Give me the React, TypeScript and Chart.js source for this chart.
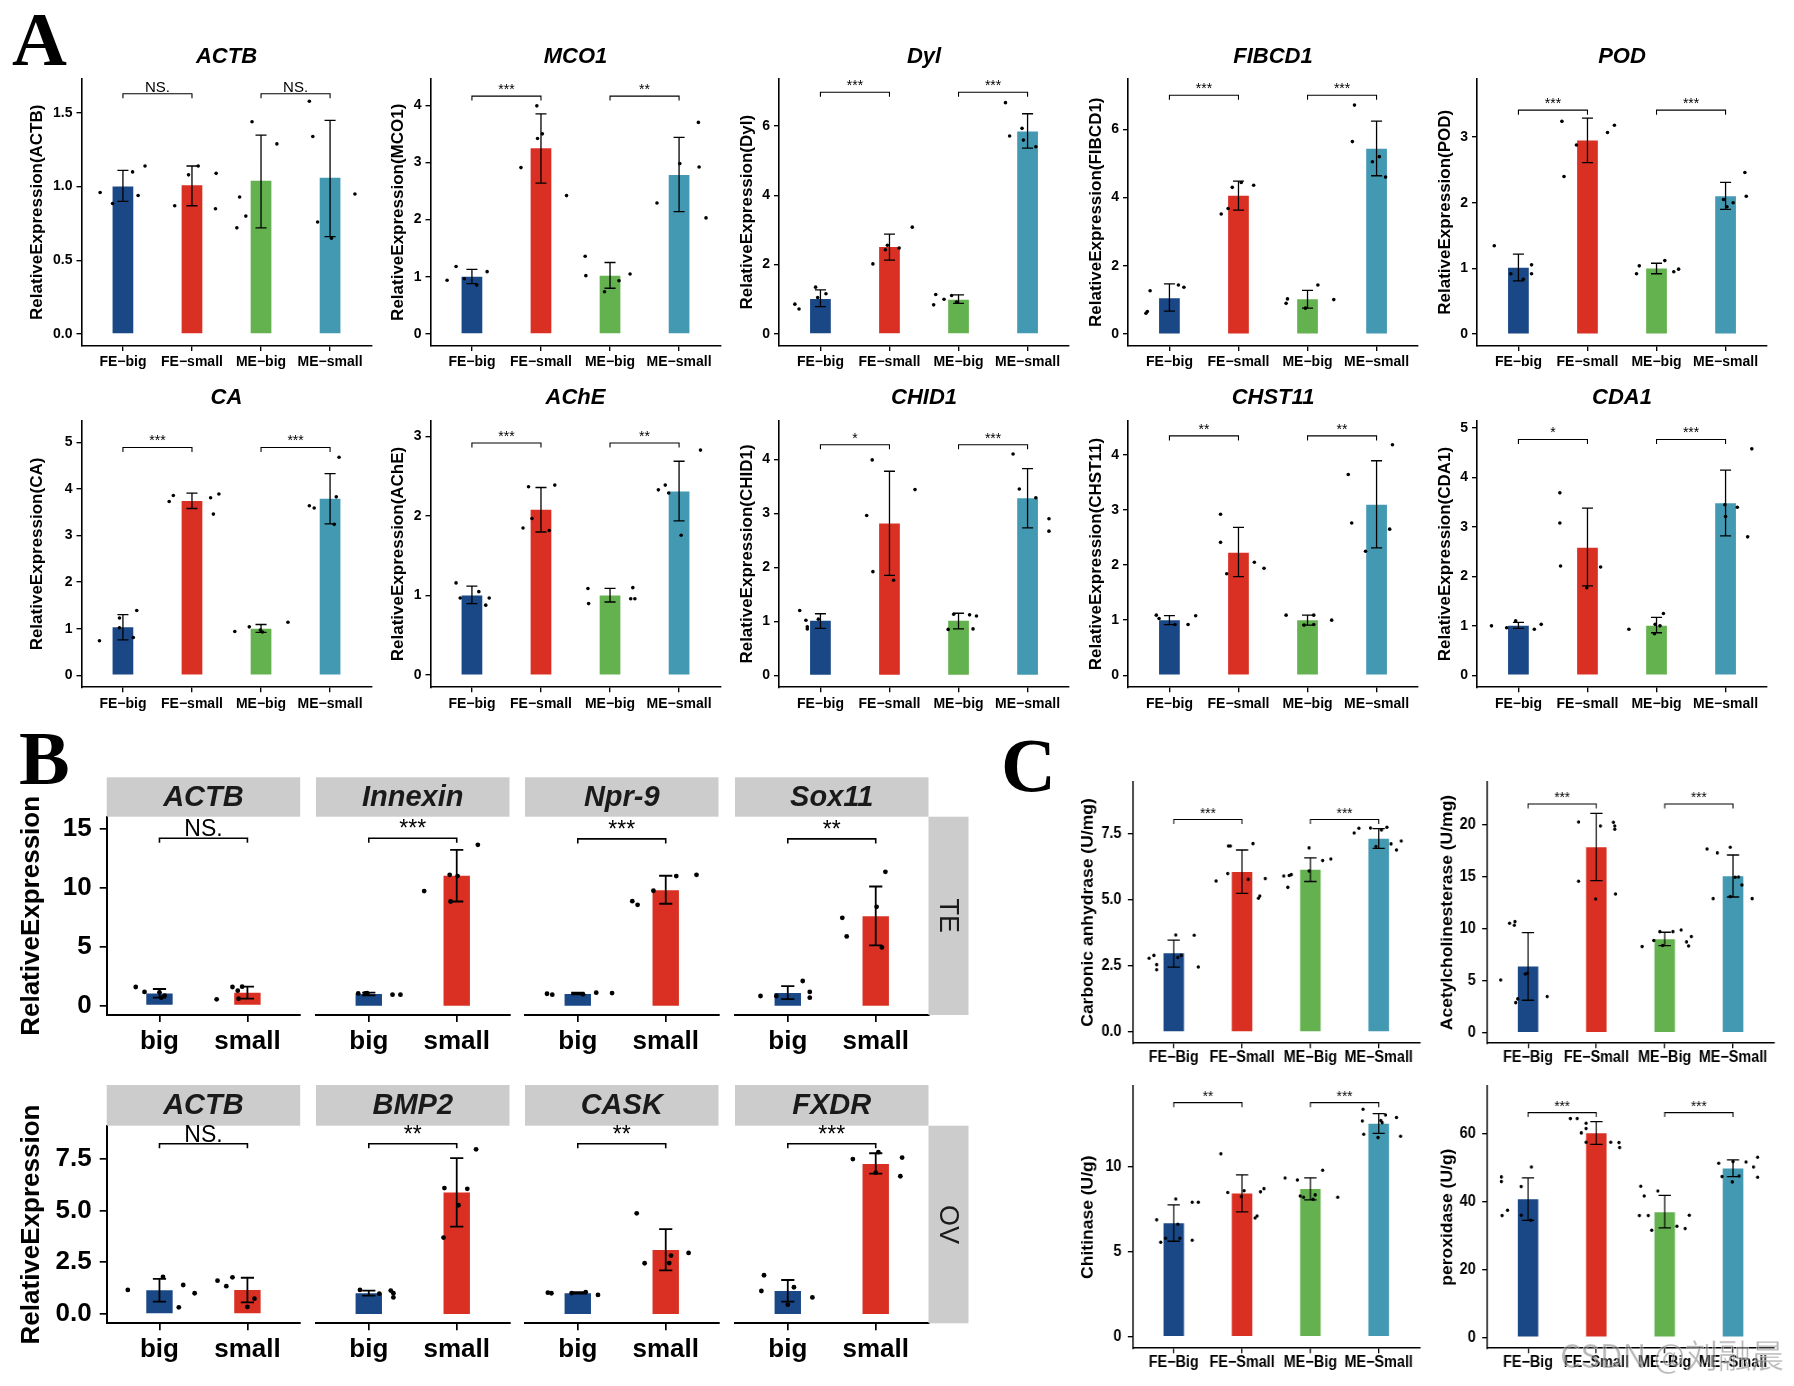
import React, { useEffect, useRef } from 'react';
import { Chart, registerables } from 'chart.js';

Chart.register(...registerables);

const SANS = "'Liberation Sans', Arial, Helvetica, sans-serif";
const SERIF = "'Liberation Serif', 'Times New Roman', serif";
Chart.defaults.font.family = SANS;

const barColors4 = ['#1a4785', '#d93023', '#64b14f', '#4398b2'];
const barColors2 = ['#1a4785', '#d93023'];

const qpcrGroups = ['FE−big', 'FE−small', 'ME−big', 'ME−small'];
const tissueGroups = ['big', 'small'];
const enzymeGroups = ['FE−Big', 'FE−Small', 'ME−Big', 'ME−Small'];

type Sig = [number, number, number, string];

// ---------- A: relative expression by group ----------
const aActbMean = [1.0, 1.01, 1.04, 1.06];
const aActbErr = [[0.9, 1.11], [0.87, 1.14], [0.72, 1.35], [0.66, 1.45]];
const aActbPts = [[0.96, 0.885, 1.1, 0.94, 1.14], [0.87, 1.08, 1.14, 0.85, 1.09], [0.72, 0.93, 0.8, 1.44, 1.29], [1.58, 1.34, 0.76, 0.65, 0.95]];
const aActbJit = [[-0.33, -0.15, 0.14, 0.22, 0.32], [-0.25, -0.05, 0.09, 0.34, 0.35], [-0.35, -0.31, -0.22, -0.13, 0.23], [-0.3, -0.25, -0.18, 0.02, 0.36]];
const aActbSig: Sig[] = [[0, 1, 1.63, 'NS.'], [2, 3, 1.63, 'NS.']];

const aMco1Mean = [1.0, 3.25, 1.02, 2.78];
const aMco1Err = [[0.88, 1.13], [2.64, 3.85], [0.8, 1.25], [2.14, 3.44]];
const aMco1Pts = [[0.94, 1.18, 0.965, 0.855, 1.09], [2.91, 3.99, 3.42, 3.5, 2.42], [1.36, 1.02, 0.74, 0.93, 1.05], [2.29, 2.98, 3.7, 2.92, 2.03]];
const aMco1Jit = [[-0.36, -0.23, -0.11, 0.07, 0.22], [-0.29, -0.06, -0.05, 0.02, 0.37], [-0.36, -0.35, -0.08, 0.13, 0.29], [-0.32, 0.01, 0.28, 0.29, 0.39]];
const aMco1Sig: Sig[] = [[0, 1, 4.16, '***'], [2, 3, 4.16, '**']];

const aDylMean = [1.01, 2.51, 0.99, 5.84];
const aDylErr = [[0.79, 1.27], [2.13, 2.88], [0.88, 1.13], [5.36, 6.35]];
const aDylPts = [[0.86, 0.72, 1.35, 1.05, 1.16], [2.02, 2.43, 2.56, 2.48, 3.08], [0.84, 1.14, 1.0, 1.11, 0.92], [6.67, 5.71, 5.93, 5.59, 5.4]];
const aDylJit = [[-0.37, -0.31, -0.07, -0.04, 0.08], [-0.24, -0.06, -0.03, 0.14, 0.33], [-0.36, -0.33, -0.21, -0.1, -0.03], [-0.32, -0.26, -0.08, -0.06, 0.12]];
const aDylSig: Sig[] = [[0, 1, 6.97, '***'], [2, 3, 6.97, '***']];

const aFibcd1Mean = [1.05, 4.05, 1.02, 5.43];
const aFibcd1Err = [[0.67, 1.47], [3.63, 4.48], [0.76, 1.28], [4.64, 6.24]];
const aFibcd1Pts = [[0.61, 0.66, 1.27, 1.44, 1.37], [3.52, 3.68, 4.3, 4.44, 4.36], [0.9, 1.03, 0.76, 1.44, 1.01], [5.64, 6.71, 5.05, 5.2, 4.6]];
const aFibcd1Jit = [[-0.34, -0.32, -0.28, 0.13, 0.21], [-0.25, -0.15, -0.09, 0.04, 0.22], [-0.31, -0.29, -0.03, 0.15, 0.38], [-0.35, -0.32, -0.06, 0.04, 0.13]];
const aFibcd1Sig: Sig[] = [[0, 1, 7.0, '***'], [2, 3, 7.0, '***']];

const aPodMean = [1.01, 2.95, 1.0, 2.1];
const aPodErr = [[0.81, 1.22], [2.61, 3.29], [0.92, 1.08], [1.9, 2.31]];
const aPodPts = [[1.345, 0.92, 0.835, 1.055, 0.92], [3.24, 2.4, 2.88, 3.07, 3.18], [0.92, 1.04, 1.12, 0.95, 0.99], [2.05, 1.94, 2.0, 2.46, 2.1]];
const aPodJit = [[-0.35, -0.11, 0.07, 0.19, 0.19], [-0.37, -0.34, -0.16, 0.29, 0.39], [-0.29, -0.25, 0.12, 0.25, 0.32], [-0.03, 0.02, 0.11, 0.28, 0.3]];
const aPodSig: Sig[] = [[0, 1, 3.41, '***'], [2, 3, 3.41, '***']];

const aCaMean = [1.03, 3.74, 1.0, 3.79];
const aCaErr = [[0.76, 1.3], [3.58, 3.91], [0.92, 1.09], [3.25, 4.33]];
const aCaPts = [[0.74, 1.23, 1.02, 0.81, 1.39], [3.73, 3.86, 3.81, 3.46, 3.89], [0.94, 1.04, 0.97, 0.93, 1.14], [3.64, 3.59, 3.24, 3.83, 4.68]];
const aCaJit = [[-0.34, -0.05, -0.05, 0.15, 0.2], [-0.33, -0.27, 0.27, 0.31, 0.39], [-0.38, -0.17, -0.01, 0.02, 0.39], [-0.3, -0.23, 0.06, 0.09, 0.13]];
const aCaSig: Sig[] = [[0, 1, 4.89, '***'], [2, 3, 4.89, '***']];

const aAcheMean = [1.0, 2.08, 1.0, 2.31];
const aAcheErr = [[0.9, 1.12], [1.8, 2.36], [0.92, 1.09], [1.94, 2.69]];
const aAchePts = [[1.16, 0.97, 1.05, 0.88, 0.97], [1.85, 2.37, 1.97, 1.82, 2.39], [1.09, 0.9, 1.1, 0.96, 0.96], [2.33, 2.39, 2.29, 1.76, 2.83]];
const aAcheJit = [[-0.23, -0.17, 0.1, 0.2, 0.25], [-0.26, -0.18, -0.13, 0.12, 0.2], [-0.32, -0.31, 0.33, 0.3, 0.36], [-0.3, -0.2, -0.15, 0.03, 0.31]];
const aAcheSig: Sig[] = [[0, 1, 2.92, '***'], [2, 3, 2.92, '**']];

const aChid1Mean = [1.01, 2.81, 1.01, 3.28];
const aChid1Err = [[0.87, 1.14], [1.85, 3.78], [0.86, 1.15], [2.73, 3.83]];
const aChid1Pts = [[1.2, 1.02, 0.86, 0.9, 1.04], [2.96, 3.99, 1.92, 1.76, 3.44], [0.85, 1.13, 1.12, 0.86, 1.1], [4.1, 3.45, 3.29, 2.67, 2.9]];
const aChid1Jit = [[-0.3, -0.21, -0.19, -0.19, -0.03], [-0.33, -0.25, -0.24, 0.06, 0.37], [-0.15, -0.07, 0.16, 0.21, 0.26], [-0.21, -0.12, 0.12, 0.31, 0.31]];
const aChid1Sig: Sig[] = [[0, 1, 4.27, '*'], [2, 3, 4.27, '***']];

const aChst11Mean = [1.0, 2.22, 1.0, 3.09];
const aChst11Err = [[0.92, 1.08], [1.79, 2.68], [0.91, 1.09], [2.31, 3.89]];
const aChst11Pts = [[1.09, 1.03, 0.92, 0.92, 1.08], [2.92, 2.41, 1.84, 2.05, 1.94], [1.09, 0.91, 1.09, 0.92, 1.0], [3.64, 2.76, 2.25, 2.65, 4.18]];
const aChst11Jit = [[-0.19, -0.15, 0.08, 0.27, 0.38], [-0.26, -0.26, -0.17, 0.23, 0.37], [-0.31, -0.05, 0.09, 0.09, 0.35], [-0.41, -0.36, -0.16, 0.19, 0.23]];
const aChst11Sig: Sig[] = [[0, 1, 4.34, '**'], [2, 3, 4.34, '**']];

const aCda1Mean = [1.0, 2.58, 1.0, 3.48];
const aCda1Err = [[0.95, 1.07], [1.81, 3.38], [0.86, 1.17], [2.82, 4.15]];
const aCda1Pts = [[1.0, 0.96, 1.1, 0.93, 1.03], [3.69, 3.08, 2.21, 1.77, 2.19], [0.93, 0.84, 1.03, 1.0, 1.25], [3.45, 3.21, 3.4, 2.8, 4.58]];
const aCda1Jit = [[-0.39, -0.17, -0.04, 0.23, 0.33], [-0.4, -0.4, -0.39, -0.01, 0.19], [-0.4, -0.03, -0.02, 0.05, 0.1], [-0.01, 0.0, 0.17, 0.32, 0.38]];
const aCda1Sig: Sig[] = [[0, 1, 4.77, '*'], [2, 3, 4.77, '***']];

// ---------- B: big vs small, TE and OV ----------
const teTicks = [0, 5, 10, 15];
const ovTicks = [0, 2.5, 5, 7.5];

const teActbMean = [1.04, 1.1];
const teActbErr = [[0.68, 1.41], [0.59, 1.61]];
const teActbPts = [[1.58, 1.16, 1.13, 0.68, 0.85], [0.54, 1.58, 1.27, 0.59, 1.61]];
const teActbJit = [[-0.27, -0.17, 0.0, 0.02, 0.06], [-0.35, -0.17, -0.11, -0.1, -0.06]];
const teActbSig: Sig[] = [[0, 1, 14.18, 'NS.']];

const teInxMean = [0.99, 11.0];
const teInxErr = [[0.87, 1.1], [8.82, 13.19]];
const teInxPts = [[1.04, 1.04, 1.07, 0.93, 0.93], [9.7, 11.08, 8.82, 10.97, 13.62]];
const teInxJit = [[-0.12, -0.04, -0.02, 0.27, 0.36], [-0.37, -0.08, -0.07, 0.01, 0.24]];
const teInxSig: Sig[] = [[0, 1, 14.18, '***']];

const teNprMean = [0.99, 9.78];
const teNprErr = [[0.96, 1.1], [8.63, 11.0]];
const teNprPts = [[1.01, 0.93, 0.96, 1.1, 1.07], [8.85, 8.54, 9.73, 10.97, 11.08]];
const teNprJit = [[-0.35, -0.29, 0.06, 0.21, 0.39], [-0.38, -0.32, -0.14, 0.12, 0.35]];
const teNprSig: Sig[] = [[0, 1, 14.12, '***']];

const teSoxMean = [1.07, 7.58];
const teSoxErr = [[0.56, 1.66], [5.1, 10.09]];
const teSoxPts = [[0.82, 0.82, 2.09, 1.16, 0.68], [7.44, 5.86, 8.37, 4.93, 11.33]];
const teSoxJit = [[-0.31, -0.13, 0.17, 0.25, 0.25], [-0.38, -0.33, 0.01, 0.07, 0.11]];
const teSoxSig: Sig[] = [[0, 1, 14.12, '**']];

const ovActbMean = [1.14, 1.16];
const ovActbErr = [[0.6, 1.69], [0.56, 1.75]];
const ovActbPts = [[1.16, 1.79, 0.32, 1.4, 1.0], [1.61, 1.34, 1.77, 0.34, 0.74]];
const ovActbJit = [[-0.36, 0.04, 0.22, 0.27, 0.4], [-0.34, -0.24, -0.17, 0.0, 0.08]];
const ovActbSig: Sig[] = [[0, 1, 8.22, 'NS.']];

const ovBmpMean = [1.0, 5.86];
const ovBmpErr = [[0.89, 1.13], [4.22, 7.52]];
const ovBmpPts = [[1.16, 0.98, 1.13, 1.0, 0.8], [3.69, 6.08, 5.25, 6.04, 7.95]];
const ovBmpJit = [[-0.1, 0.12, 0.25, 0.28, 0.28], [-0.15, -0.14, 0.02, 0.12, 0.22]];
const ovBmpSig: Sig[] = [[0, 1, 8.22, '**']];

const ovCaskMean = [1.0, 3.09];
const ovCaskErr = [[0.98, 1.05], [2.11, 4.1]];
const ovCaskPts = [[1.03, 1.0, 1.01, 1.05, 0.92], [4.86, 2.45, 2.46, 2.82, 2.95]];
const ovCaskJit = [[-0.34, -0.3, -0.07, 0.09, 0.23], [-0.33, -0.24, 0.04, 0.06, 0.26]];
const ovCaskSig: Sig[] = [[0, 1, 8.22, '**']];

const ovFxdrMean = [1.11, 7.24];
const ovFxdrErr = [[0.6, 1.64], [6.78, 7.76]];
const ovFxdrPts = [[1.11, 1.87, 0.45, 1.29, 0.8], [7.48, 6.82, 7.81, 6.65, 7.55]];
const ovFxdrJit = [[-0.3, -0.27, 0.0, 0.07, 0.28], [-0.26, 0.0, 0.03, 0.28, 0.3]];
const ovFxdrSig: Sig[] = [[0, 1, 8.22, '***']];

// ---------- C: enzyme activities ----------
const cCaMean = [2.97, 6.04, 6.12, 7.3];
const cCaErr = [[2.45, 3.47], [5.23, 6.87], [5.68, 6.57], [6.93, 7.68]];
const cCaPts = [
  [2.78, 2.89, 2.35, 2.54, 3.66, 2.81, 2.89, 3.65, 2.45],
  [5.7, 7.02, 7.02, 5.98, 5.76, 7.11, 5.05, 5.13, 5.79],
  [5.89, 5.91, 5.94, 5.46, 6.95, 6.08, 6.47, 6.53],
  [7.51, 7.69, 7.7, 7.0, 7.63, 7.73, 7.1, 6.87, 7.21],
];
const cCaJit = [
  [-0.36, -0.29, -0.25, -0.25, 0.03, 0.06, 0.11, 0.3, 0.36],
  [-0.38, -0.2, -0.17, -0.21, 0.09, 0.16, 0.24, 0.26, 0.34],
  [-0.39, -0.31, -0.28, -0.33, -0.02, -0.02, 0.18, 0.3],
  [-0.36, -0.29, -0.12, -0.04, 0.04, 0.12, 0.18, 0.26, 0.33],
];
const cCaSig: Sig[] = [[0, 1, 8.02, '***'], [2, 3, 8.02, '***']];

const cAcheMean = [6.35, 17.82, 8.97, 15.03];
const cAcheErr = [[3.11, 9.62], [14.62, 21.09], [8.37, 9.65], [13.04, 17.08]];
const cAchePts = [
  [5.06, 10.51, 10.32, 10.67, 2.88, 3.24, 5.64, 5.71, 3.46],
  [20.26, 14.55, 12.85, 19.87, 20.22, 19.87, 19.55, 13.33],
  [8.27, 8.85, 9.71, 8.37, 9.71, 9.87, 8.72, 8.33, 9.23],
  [17.66, 12.88, 17.28, 17.82, 13.08, 14.94, 14.97, 14.2, 12.88],
];
const cAcheJit = [
  [-0.4, -0.27, -0.2, -0.19, -0.18, -0.15, -0.04, -0.01, 0.28],
  [-0.26, -0.26, -0.01, 0.06, 0.25, 0.27, 0.27, 0.28],
  [-0.33, -0.16, -0.07, -0.03, 0.12, 0.24, 0.32, 0.35, 0.39],
  [-0.38, -0.29, -0.23, -0.04, -0.04, 0.03, 0.08, 0.13, 0.28],
];
const cAcheSig: Sig[] = [[0, 1, 21.99, '***'], [2, 3, 21.99, '***']];

const cChiMean = [6.68, 8.43, 8.7, 12.55];
const cChiErr = [[5.62, 7.76], [7.35, 9.53], [8.06, 9.35], [11.98, 13.14]];
const cChiPts = [
  [6.88, 5.56, 5.8, 8.11, 6.62, 5.8, 5.68, 7.92, 7.92],
  [10.77, 8.49, 8.25, 8.6, 6.99, 7.11, 8.53, 8.72],
  [9.35, 9.23, 8.29, 8.21, 8.09, 8.35, 9.8, 8.21],
  [13.4, 12.71, 11.93, 11.73, 12.73, 12.61, 13.06, 12.91, 11.81],
];
const cChiJit = [
  [-0.25, -0.19, -0.12, 0.03, 0.06, 0.09, 0.27, 0.27, 0.36],
  [-0.31, -0.21, -0.01, 0.03, 0.19, 0.22, 0.27, 0.32],
  [-0.37, -0.19, -0.15, -0.1, 0.04, 0.07, 0.18, 0.4],
  [-0.23, -0.24, -0.22, -0.01, 0.03, 0.05, 0.1, 0.26, 0.32],
];
const cChiSig: Sig[] = [[0, 1, 13.79, '**'], [2, 3, 13.79, '***']];

const cPodMean = [40.59, 60.0, 36.76, 49.61];
const cPodErr = [[34.41, 46.86], [56.76, 63.43], [32.16, 41.76], [47.25, 52.16]];
const cPodPts = [
  [47.16, 45.78, 35.78, 37.35, 44.31, 35.88, 34.41, 50.1],
  [64.31, 64.31, 62.94, 61.37, 60.1, 57.35, 57.35, 57.25, 55.78],
  [44.41, 41.57, 35.78, 35.78, 43.04, 31.47, 32.65, 31.96, 35.88],
  [51.18, 47.25, 45.69, 51.67, 47.45, 51.57, 50.1, 52.94, 47.06],
];
const cPodJit = [
  [-0.39, -0.39, -0.38, -0.3, -0.1, -0.1, 0.04, 0.05],
  [-0.38, -0.28, -0.15, -0.15, -0.22, -0.15, 0.21, 0.33, 0.34],
  [-0.35, -0.3, -0.37, -0.24, -0.1, -0.19, 0.18, 0.3, 0.36],
  [-0.21, -0.16, -0.01, 0.0, 0.09, 0.19, 0.3, 0.36, 0.36],
];
const cPodSig: Sig[] = [[0, 1, 66.08, '***'], [2, 3, 66.08, '***']];

// ---------- styling ----------
type Style = {
  tick: number; yTitle: number; title: number; sig: number; ns: number;
  dot: number; axis: number; tickLenX: number; tickLenY: number; padX: number; padY: number;
  errHalf: number; errW: number; brW: number; tipPx: number; strip: number; side: number;
};

const styleA: Style = { tick: 14, yTitle: 17, title: 22, sig: 14, ns: 15, dot: 1.8, axis: 1.6, tickLenX: 5, tickLenY: 5, padX: 3, padY: 4, errHalf: 0.08, errW: 1.3, brW: 1.1, tipPx: 4.5, strip: 0, side: 0 };
const styleB: Style = { tick: 26, yTitle: 26, title: 0, sig: 23, ns: 23, dot: 2.4, axis: 2, tickLenX: 7, tickLenY: 7, padX: 4, padY: 8, errHalf: 0.075, errW: 1.8, brW: 1.6, tipPx: 4.5, strip: 29, side: 27 };
const styleC: Style = { tick: 16, yTitle: 17.5, title: 0, sig: 15, ns: 15, dot: 1.8, axis: 1.6, tickLenX: 5, tickLenY: 5.5, padX: 0, padY: 7, errHalf: 0.09, errW: 1.3, brW: 1.1, tipPx: 4.5, strip: 0, side: 0 };

interface Spec {
  id: string;
  cats: string[]; colors: string[];
  mean: number[]; err: number[][]; pts: number[][]; jit: number[][]; sig: Sig[];
  yMin: number; yMax: number; yTicks: number[]; digits: number;
  plot: number[]; // page x0, y0, x1, y1
  box: number[]; // page left, top, right, bottom
  sx: number; st: Style;
  title?: string; titleY?: number;
  yTitle?: string; yTitleX?: number;
  yAxis: boolean;
  stripTop?: number; strip?: string; side?: string; sideW?: number;
}

// panel grid for A
const A_X0 = [81.5, 430.5, 779, 1128, 1477];
const A_W = 290;
const A_ROWS = [{ y0: 78.5, y1: 346, t: 56.7 }, { y0: 420.7, y1: 687.3, t: 398.3 }];

function qpcrPanel(title: string, mean: number[], err: number[][], pts: number[][], jit: number[][], sig: Sig[],
  yMin: number, yMax: number, yTicks: number[], digits: number, col: number, row: number): Spec {
  const x0 = A_X0[col];
  const r = A_ROWS[row];
  return {
    id: 'A-' + title, cats: qpcrGroups, colors: barColors4, mean, err, pts, jit, sig, yMin, yMax, yTicks, digits,
    plot: [x0, r.y0, x0 + A_W, r.y1],
    box: [Math.floor(x0 - 62), Math.floor(r.y0 - 50), Math.ceil(x0 + A_W + 12), Math.ceil(r.y1 + 32)],
    sx: 1, st: styleA, title, titleY: r.t,
    yTitle: `RelativeExpression(${title})`, yTitleX: x0 - (col === 0 ? 44.4 : 32), yAxis: true,
  };
}

// facet grid for B
const B_X0 = [106.7, 316, 525, 735];
const B_W = 193.5;
const B_ROWS = [
  { y0: 816.7, y1: 1015, s: 777.3, side: 'TE', yMin: -0.79, yMax: 16.0, ticks: teTicks, digits: 0 },
  { y0: 1125.7, y1: 1323.3, s: 1085, side: 'OV', yMin: -0.45, yMax: 9.09, ticks: ovTicks, digits: 1 },
];

function tissuePanel(gene: string, mean: number[], err: number[][], pts: number[][], jit: number[][], sig: Sig[],
  col: number, row: number): Spec {
  const x0 = B_X0[col];
  const r = B_ROWS[row];
  const x1 = x0 + B_W;
  return {
    id: `B-${row}-${gene}`, cats: tissueGroups, colors: barColors2, mean, err, pts, jit, sig,
    yMin: r.yMin, yMax: r.yMax, yTicks: r.ticks, digits: r.digits,
    plot: [x0, r.y0, x1, r.y1],
    box: [col === 0 ? 8 : Math.floor(x0 - 6), Math.floor(r.s - 6), Math.ceil(x1 + (col === 3 ? 46 : 8)), Math.ceil(r.y1 + 46)],
    sx: 1, st: styleB,
    yTitle: col === 0 ? 'RelativeExpression' : undefined, yTitleX: 32.3, yAxis: col === 0,
    stripTop: r.s, strip: gene, side: col === 3 ? r.side : undefined, sideW: 40,
  };
}

// 2x2 grid for C (horizontally condensed)
const C_X0 = [1132.7, 1487];
const C_W = 287;
const C_ROWS = [{ y0: 781.7, y1: 1043.3 }, { y0: 1086, y1: 1348.3 }];
const C_TITLE_X = [1088.6, 1448];
const C_SX = 0.9;

function enzymePanel(yTitle: string, mean: number[], err: number[][], pts: number[][], jit: number[][], sig: Sig[],
  yMin: number, yMax: number, yTicks: number[], digits: number, col: number, row: number): Spec {
  const x0 = C_X0[col];
  const r = C_ROWS[row];
  return {
    id: 'C-' + yTitle, cats: enzymeGroups, colors: barColors4, mean, err, pts, jit, sig, yMin, yMax, yTicks, digits,
    plot: [x0, r.y0, x0 + C_W, r.y1],
    box: [Math.floor(x0 - 60), Math.floor(r.y0 - 22), Math.ceil(x0 + C_W + 8), Math.ceil(r.y1 + 30)],
    sx: C_SX, st: styleC, yTitle, yTitleX: C_TITLE_X[col], yAxis: true,
  };
}

const PANELS: Spec[] = [
  qpcrPanel('ACTB', aActbMean, aActbErr, aActbPts, aActbJit, aActbSig, -0.082, 1.734, [0, 0.5, 1, 1.5], 1, 0, 0),
  qpcrPanel('MCO1', aMco1Mean, aMco1Err, aMco1Pts, aMco1Jit, aMco1Sig, -0.21, 4.468, [0, 1, 2, 3, 4], 0, 1, 0),
  qpcrPanel('Dyl', aDylMean, aDylErr, aDylPts, aDylJit, aDylSig, -0.347, 7.367, [0, 2, 4, 6], 0, 2, 0),
  qpcrPanel('FIBCD1', aFibcd1Mean, aFibcd1Err, aFibcd1Pts, aFibcd1Jit, aFibcd1Sig, -0.35, 7.49, [0, 2, 4, 6], 0, 3, 0),
  qpcrPanel('POD', aPodMean, aPodErr, aPodPts, aPodJit, aPodSig, -0.18, 3.892, [0, 1, 2, 3], 0, 4, 0),
  qpcrPanel('CA', aCaMean, aCaErr, aCaPts, aCaJit, aCaSig, -0.258, 5.465, [0, 1, 2, 3, 4, 5], 0, 0, 1),
  qpcrPanel('AChE', aAcheMean, aAcheErr, aAchePts, aAcheJit, aAcheSig, -0.153, 3.2, [0, 1, 2, 3], 0, 1, 1),
  qpcrPanel('CHID1', aChid1Mean, aChid1Err, aChid1Pts, aChid1Jit, aChid1Sig, -0.222, 4.716, [0, 1, 2, 3, 4], 0, 2, 1),
  qpcrPanel('CHST11', aChst11Mean, aChst11Err, aChst11Pts, aChst11Jit, aChst11Sig, -0.218, 4.616, [0, 1, 2, 3, 4], 0, 3, 1),
  qpcrPanel('CDA1', aCda1Mean, aCda1Err, aCda1Pts, aCda1Jit, aCda1Sig, -0.243, 5.149, [0, 1, 2, 3, 4, 5], 0, 4, 1),

  tissuePanel('ACTB', teActbMean, teActbErr, teActbPts, teActbJit, teActbSig, 0, 0),
  tissuePanel('Innexin', teInxMean, teInxErr, teInxPts, teInxJit, teInxSig, 1, 0),
  tissuePanel('Npr-9', teNprMean, teNprErr, teNprPts, teNprJit, teNprSig, 2, 0),
  tissuePanel('Sox11', teSoxMean, teSoxErr, teSoxPts, teSoxJit, teSoxSig, 3, 0),
  tissuePanel('ACTB', ovActbMean, ovActbErr, ovActbPts, ovActbJit, ovActbSig, 0, 1),
  tissuePanel('BMP2', ovBmpMean, ovBmpErr, ovBmpPts, ovBmpJit, ovBmpSig, 1, 1),
  tissuePanel('CASK', ovCaskMean, ovCaskErr, ovCaskPts, ovCaskJit, ovCaskSig, 2, 1),
  tissuePanel('FXDR', ovFxdrMean, ovFxdrErr, ovFxdrPts, ovFxdrJit, ovFxdrSig, 3, 1),

  enzymePanel('Carbonic anhydrase (U/mg)', cCaMean, cCaErr, cCaPts, cCaJit, cCaSig, -0.43, 9.45, [0, 2.5, 5, 7.5], 1, 0, 0),
  enzymePanel('Acetylcholinesterase (U/mg)', cAcheMean, cAcheErr, cAchePts, cAcheJit, cAcheSig, -1.03, 24.13, [0, 5, 10, 15, 20], 0, 1, 0),
  enzymePanel('Chitinase (U/g)', cChiMean, cChiErr, cChiPts, cChiJit, cChiSig, -0.69, 14.77, [0, 5, 10], 0, 0, 1),
  enzymePanel('peroxidase (U/g)', cPodMean, cPodErr, cPodPts, cPodJit, cPodSig, -3.24, 73.9, [0, 20, 40, 60], 0, 1, 1),
];

function geometry(s: Spec) {
  const [bl, bt, br, bb] = s.box;
  const [x0, y0, x1, y1] = s.plot;
  const W = Math.round((br - bl) / s.sx);
  const H = Math.round(bb - bt);
  const padL = (x0 - bl) / s.sx;
  const plotW = (x1 - x0) / s.sx;
  const padR = W - padL - plotW;
  const padT = y0 - bt;
  const padB = H - padT - (y1 - y0);
  return { bl, bt, W, H, padL, padR, padT, padB };
}

function buildConfig(s: Spec) {
  const g = geometry(s);
  const st = s.st;
  const n = s.cats.length;
  const [, y0, , y1] = s.plot;
  const tip = (st.tipPx * (s.yMax - s.yMin)) / (y1 - y0);

  const errData: { x: number; y: number }[] = [];
  s.err.forEach(([lo, hi], i) => {
    const h = st.errHalf;
    errData.push(
      { x: i, y: lo }, { x: i, y: hi }, { x: i, y: NaN },
      { x: i - h, y: hi }, { x: i + h, y: hi }, { x: i, y: NaN },
      { x: i - h, y: lo }, { x: i + h, y: lo }, { x: i, y: NaN },
    );
  });
  const ptData: { x: number; y: number }[] = [];
  s.pts.forEach((ys, i) => ys.forEach((y, k) => ptData.push({ x: i + s.jit[i][k], y })));
  const brData: { x: number; y: number }[] = [];
  s.sig.forEach(([a, b, h]) => {
    brData.push({ x: a, y: h - tip }, { x: a, y: h }, { x: b, y: h }, { x: b, y: h - tip }, { x: b, y: NaN });
  });

  const toX = (px: number) => (px - g.bl) / s.sx;
  const toY = (py: number) => py - g.bt;

  const decor = {
    id: 'decor',
    beforeDatasetsDraw(chart: any) {
      const ctx = chart.ctx as CanvasRenderingContext2D;
      const a = chart.chartArea;
      ctx.save();
      if (s.strip && s.stripTop !== undefined) {
        const top = toY(s.stripTop);
        ctx.fillStyle = '#cccccc';
        ctx.fillRect(a.left, top, a.right - a.left, a.top - top);
        ctx.fillStyle = '#1a1a1a';
        ctx.font = `italic bold ${st.strip}px ${SANS}`;
        ctx.textAlign = 'center';
        ctx.textBaseline = 'middle';
        ctx.fillText(s.strip, (a.left + a.right) / 2, (top + a.top) / 2 + 1);
      }
      if (s.side) {
        const w = (s.sideW || 40) / s.sx;
        ctx.fillStyle = '#cccccc';
        ctx.fillRect(a.right, a.top, w, a.bottom - a.top);
        ctx.translate(a.right + w / 2, (a.top + a.bottom) / 2);
        ctx.rotate(Math.PI / 2);
        ctx.fillStyle = '#1a1a1a';
        ctx.font = `${st.side}px ${SANS}`;
        ctx.textAlign = 'center';
        ctx.textBaseline = 'middle';
        ctx.fillText(s.side, 0, 1);
      }
      ctx.restore();
    },
    afterDraw(chart: any) {
      const ctx = chart.ctx as CanvasRenderingContext2D;
      const a = chart.chartArea;
      const xs = chart.scales.x;
      const ys = chart.scales.y;
      ctx.save();
      ctx.fillStyle = '#000';
      if (s.title && s.titleY !== undefined) {
        ctx.font = `italic bold ${st.title}px ${SANS}`;
        ctx.textAlign = 'center';
        ctx.textBaseline = 'middle';
        ctx.fillText(s.title, (a.left + a.right) / 2, toY(s.titleY));
      }
      if (s.yTitle && s.yTitleX !== undefined) {
        ctx.save();
        ctx.translate(toX(s.yTitleX), (a.top + a.bottom) / 2);
        ctx.rotate(-Math.PI / 2);
        ctx.font = `bold ${st.yTitle}px ${SANS}`;
        ctx.textAlign = 'center';
        ctx.textBaseline = 'middle';
        ctx.fillText(s.yTitle, 0, 0);
        ctx.restore();
      }
      s.sig.forEach(([i, j, h, label]) => {
        const ns = label === 'NS.';
        ctx.font = `${ns ? st.ns : st.sig}px ${SANS}`;
        ctx.textAlign = 'center';
        ctx.textBaseline = 'alphabetic';
        ctx.fillText(label, xs.getPixelForValue((i + j) / 2), ys.getPixelForValue(h) - 2);
      });
      ctx.restore();
    },
  };

  const tickFont = { family: SANS, size: st.tick, weight: 'bold' as const };

  return {
    type: 'bar',
    data: {
      datasets: [
        {
          type: 'bar', data: s.mean.map((m, i) => ({ x: i, y: m })), backgroundColor: s.colors,
          borderWidth: 0, barPercentage: 0.3, categoryPercentage: 1, order: 3,
        },
        {
          type: 'line', data: errData, borderColor: '#000', borderWidth: st.errW, pointRadius: 0,
          spanGaps: false, fill: false, tension: 0, borderCapStyle: 'butt', order: 2,
        },
        {
          type: 'scatter', data: ptData, pointRadius: st.dot, pointBackgroundColor: '#000',
          pointBorderWidth: 0, order: 1,
        },
        {
          type: 'line', data: brData, borderColor: '#000', borderWidth: st.brW, pointRadius: 0,
          spanGaps: false, fill: false, tension: 0, borderJoinStyle: 'miter', order: 0,
        },
      ],
    },
    options: {
      responsive: false,
      animation: false,
      devicePixelRatio: 1,
      events: [],
      layout: { padding: { left: 0, right: g.padR, top: g.padT, bottom: 0 } },
      plugins: { legend: { display: false }, tooltip: { enabled: false }, title: { display: false } },
      scales: {
        x: {
          type: 'linear', min: -0.6, max: n - 0.4, offset: false,
          afterBuildTicks: (sc: any) => { sc.ticks = s.cats.map((_, i) => ({ value: i })); },
          afterFit: (sc: any) => { sc.height = g.padB; },
          ticks: {
            callback: (v: any) => s.cats[Math.round(Number(v))] ?? '',
            font: tickFont, color: '#000', padding: st.padX, autoSkip: false, maxRotation: 0, minRotation: 0,
          },
          grid: { display: true, drawOnChartArea: false, drawTicks: true, tickLength: st.tickLenX, color: '#000', lineWidth: st.axis * 0.85, offset: false },
          border: { display: true, color: '#000', width: st.axis },
        },
        y: {
          type: 'linear', min: s.yMin, max: s.yMax,
          afterBuildTicks: (sc: any) => { sc.ticks = s.yTicks.map((v) => ({ value: v })); },
          afterFit: (sc: any) => { sc.width = g.padL; },
          ticks: {
            display: s.yAxis, callback: (v: any) => Number(v).toFixed(s.digits),
            font: tickFont, color: '#000', padding: st.padY, autoSkip: false,
          },
          grid: { display: s.yAxis, drawOnChartArea: false, drawTicks: true, tickLength: st.tickLenY, color: '#000', lineWidth: st.axis * 0.85 },
          border: { display: s.yAxis, color: '#000', width: st.axis },
        },
      },
    },
    plugins: [decor],
  };
}

function Panel({ s }: { s: Spec }) {
  const ref = useRef<HTMLCanvasElement | null>(null);
  const g = geometry(s);
  useEffect(() => {
    if (!ref.current) return;
    const chart = new Chart(ref.current, buildConfig(s) as any);
    return () => chart.destroy();
  }, [s]);
  return (
    <canvas
      ref={ref}
      width={g.W}
      height={g.H}
      style={{
        position: 'absolute', left: g.bl, top: g.bt, width: g.W, height: g.H,
        transform: s.sx !== 1 ? `scaleX(${s.sx})` : undefined, transformOrigin: '0 0',
      }}
    />
  );
}

const PANEL_LETTERS = [
  { t: 'A', left: 12, baseline: 65 },
  { t: 'B', left: 19, baseline: 784 },
  { t: 'C', left: 1001, baseline: 791 },
];

export default function App() {
  return (
    <div style={{ position: 'absolute', left: 0, top: 0, width: 1794, height: 1386, background: '#fff', overflow: 'hidden' }}>
      {PANELS.map((s) => <Panel key={s.id} s={s} />)}
      {PANEL_LETTERS.map((p) => (
        <div
          key={p.t}
          style={{
            position: 'absolute', left: p.left, top: p.baseline - 63.6, fontFamily: SERIF, fontWeight: 'bold',
            fontSize: 76, lineHeight: '76px', color: '#000', whiteSpace: 'nowrap',
          }}
        >
          {p.t}
        </div>
      ))}
      <div
        style={{
          position: 'absolute', left: 1560, top: 1336, fontFamily: "'Noto Sans CJK SC', 'Noto Sans', sans-serif",
          fontSize: 33, lineHeight: '36px', color: 'rgba(125,125,125,0.55)', whiteSpace: 'nowrap',
          WebkitTextStroke: '0.6px rgba(255,255,255,0.6)',
        }}
      >
        CSDN @刘融晨
      </div>
    </div>
  );
}
